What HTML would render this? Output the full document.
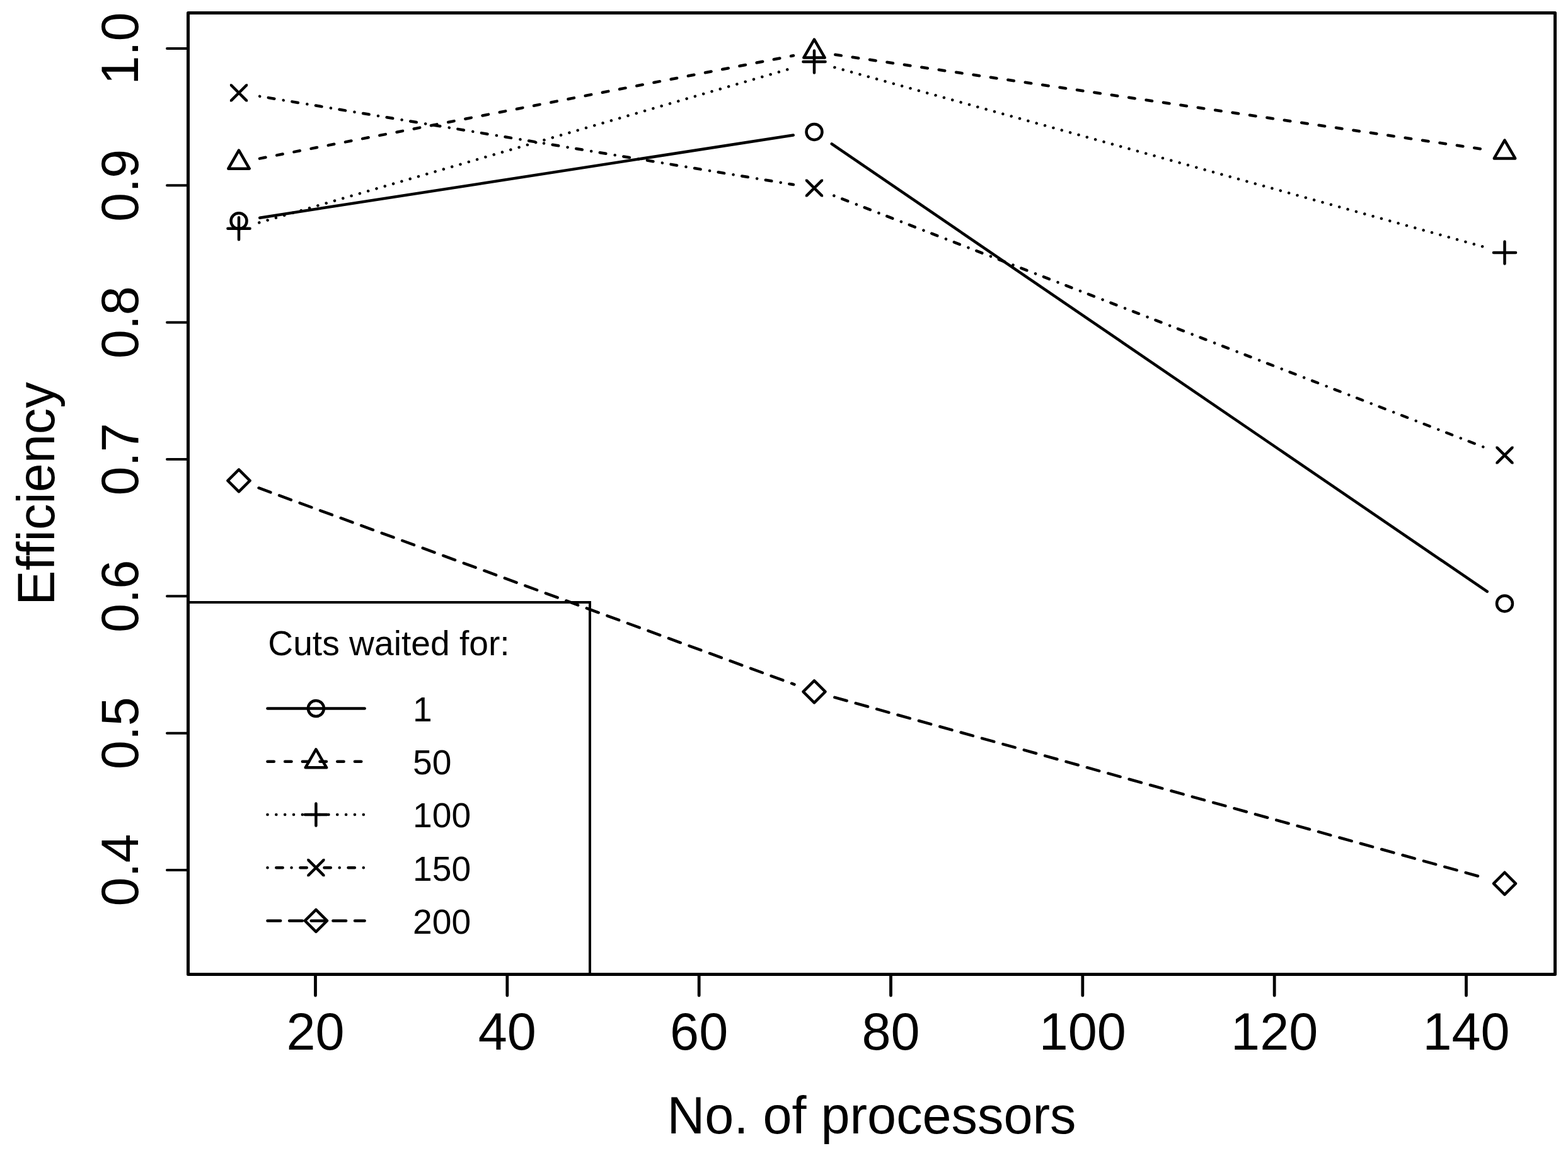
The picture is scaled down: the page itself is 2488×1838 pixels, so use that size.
<!DOCTYPE html>
<html><head><meta charset="utf-8"><title>Efficiency vs. No. of processors</title>
<style>html,body{margin:0;padding:0;background:#fff;overflow:hidden;width:2488px;height:1838px;}svg{display:block;}text{font-family:"Liberation Sans",Arial,Helvetica,sans-serif;fill:#000;font-kerning:none;}</style></head><body>
<svg width="2488" height="1838" viewBox="0 0 2488 1838">
<rect x="0" y="0" width="2488" height="1838" fill="#fff"/>
<defs><clipPath id="xclip" clipPathUnits="userSpaceOnUse"><rect x="-14.1" y="-14.1" width="28.2" height="28.2"/></clipPath></defs>
<g fill="none" stroke="#000" stroke-linecap="round" stroke-linejoin="round">
<rect x="298.5" y="20.5" width="2169" height="1526" stroke-width="5"/>
<path d="M500.50 1546.5V1580 M804.83 1546.5V1580 M1109.17 1546.5V1580 M1413.50 1546.5V1580 M1717.83 1546.5V1580 M2022.17 1546.5V1580 M2326.50 1546.5V1580" stroke-width="4.8"/>
<path d="M298.5 1381.00H265 M298.5 1163.67H265 M298.5 946.33H265 M298.5 729.00H265 M298.5 511.67H265 M298.5 294.33H265 M298.5 77.00H265" stroke-width="4"/>
</g>
<g font-size="82.8" text-anchor="middle">
<text x="500.50" y="1665.7">20</text>
<text x="804.83" y="1665.7">40</text>
<text x="1109.17" y="1665.7">60</text>
<text x="1413.50" y="1665.7">80</text>
<text x="1717.83" y="1665.7">100</text>
<text x="2022.17" y="1665.7">120</text>
<text x="2326.50" y="1665.7">140</text>
<text transform="translate(219 1381.00) rotate(-90)" x="0" y="0">0.4</text>
<text transform="translate(219 1163.67) rotate(-90)" x="0" y="0">0.5</text>
<text transform="translate(219 946.33) rotate(-90)" x="0" y="0">0.6</text>
<text transform="translate(219 729.00) rotate(-90)" x="0" y="0">0.7</text>
<text transform="translate(219 511.67) rotate(-90)" x="0" y="0">0.8</text>
<text transform="translate(219 294.33) rotate(-90)" x="0" y="0">0.9</text>
<text transform="translate(219 77.00) rotate(-90)" x="0" y="0">1.0</text>
</g>
<text font-size="82.8" text-anchor="middle" x="1383" y="1798.8">No. of processors</text>
<text font-size="82.8" text-anchor="middle" transform="translate(86 783.5) rotate(-90)">Efficiency</text>
<path d="M298.5 956H936V1546.5" fill="none" stroke="#000" stroke-width="4"/>
<g fill="none" stroke="#000" stroke-width="4.50" stroke-linecap="round" stroke-linejoin="round">
<path d="M412.20 345.66L1258.80 214.54"/>
<path d="M1319.74 228.36L2359.76 938.94"/>
<path d="M409.93 252.03L1259.01 88.26" stroke-dasharray="9.648 18.048" stroke-dashoffset="-2.10"/>
<path d="M1323.17 86.45L2354.25 237.00" stroke-dasharray="9.648 18.048" stroke-dashoffset="-2.10"/>
<path d="M409.25 353.93L1259.73 107.36" stroke-dasharray="0.050 13.798" stroke-dashoffset="-2.10"/>
<path d="M1322.36 106.40L2355.12 392.04" stroke-dasharray="0.050 13.798" stroke-dashoffset="-2.10"/>
<path d="M410.08 152.54L1258.85 293.01" stroke-dasharray="0.050 13.798 9.648 14.586" stroke-dashoffset="-2.10"/>
<path d="M1321.38 309.87L2356.17 710.37" stroke-dasharray="0.050 13.798 9.648 14.586" stroke-dashoffset="-2.10"/>
<path d="M408.57 773.75L1260.46 1086.33" stroke-dasharray="20.048 14.592" stroke-dashoffset="-2.10"/>
<path d="M1322.35 1106.33L2355.13 1393.30" stroke-dasharray="20.048 14.592" stroke-dashoffset="-2.10"/>
</g>
<g fill="none" stroke="#000" stroke-width="4.50" stroke-linecap="round" stroke-linejoin="round">
<circle cx="379.00" cy="350.80" r="12.5"/>
<circle cx="1292.00" cy="209.40" r="12.5"/>
<circle cx="2387.50" cy="957.90" r="12.5"/>
<path d="M379.00 238.72L395.70 267.64L362.30 267.64Z"/>
<path d="M1292.00 62.62L1308.70 91.54L1275.30 91.54Z"/>
<path d="M2387.50 222.57L2404.20 251.49L2370.80 251.49Z"/>
<path d="M361.46 362.70H396.54M379.00 345.16V380.24"/>
<path d="M1274.46 98.00H1309.54M1292.00 80.46V115.54"/>
<path d="M2369.96 401.00H2405.04M2387.50 383.46V418.54"/>
<g transform="translate(379.00 147.40)" clip-path="url(#xclip)"><path stroke-linecap="square" d="M-12.40 -12.40L12.40 12.40M-12.40 12.40L12.40 -12.40"/></g>
<g transform="translate(1292.00 298.50)" clip-path="url(#xclip)"><path stroke-linecap="square" d="M-12.40 -12.40L12.40 12.40M-12.40 12.40L12.40 -12.40"/></g>
<g transform="translate(2387.50 722.50)" clip-path="url(#xclip)"><path stroke-linecap="square" d="M-12.40 -12.40L12.40 12.40M-12.40 12.40L12.40 -12.40"/></g>
<path d="M361.46 762.90L379.00 745.36L396.54 762.90L379.00 780.44Z"/>
<path d="M1274.46 1097.90L1292.00 1080.36L1309.54 1097.90L1292.00 1115.44Z"/>
<path d="M2369.96 1402.30L2387.50 1384.76L2405.04 1402.30L2387.50 1419.84Z"/>
</g>
<text font-size="55.2" text-anchor="middle" x="617" y="1040.3">Cuts waited for:</text>
<g fill="none" stroke="#000" stroke-width="4.50" stroke-linecap="round" stroke-linejoin="round">
<path d="M424.45 1124.50H578.65"/>
<circle cx="501.40" cy="1124.50" r="12.5"/>
<path d="M422.70 1208.73H578.65" stroke-dasharray="10.348 17.348" stroke-dashoffset="-1.75"/>
<path d="M501.40 1189.45L518.10 1218.37L484.70 1218.37Z"/>
<path d="M422.70 1292.96H578.65" stroke-dasharray="0.050 13.798" stroke-dashoffset="-1.75"/>
<path d="M483.86 1292.96H518.94M501.40 1275.42V1310.50"/>
<path d="M422.70 1377.19H578.65" stroke-dasharray="0.050 13.798 10.348 13.886" stroke-dashoffset="-1.75"/>
<g transform="translate(501.40 1377.19)" clip-path="url(#xclip)"><path stroke-linecap="square" d="M-12.40 -12.40L12.40 12.40M-12.40 12.40L12.40 -12.40"/></g>
<path d="M422.70 1461.42H578.65" stroke-dasharray="20.748 13.892" stroke-dashoffset="-1.75"/>
<path d="M483.86 1461.42L501.40 1443.88L518.94 1461.42L501.40 1478.96Z"/>
</g>
<g font-size="55.2">
<text x="655" y="1145.00">1</text>
<text x="655" y="1229.23">50</text>
<text x="655" y="1313.46">100</text>
<text x="655" y="1397.69">150</text>
<text x="655" y="1481.92">200</text>
</g>
</svg>
</body></html>
